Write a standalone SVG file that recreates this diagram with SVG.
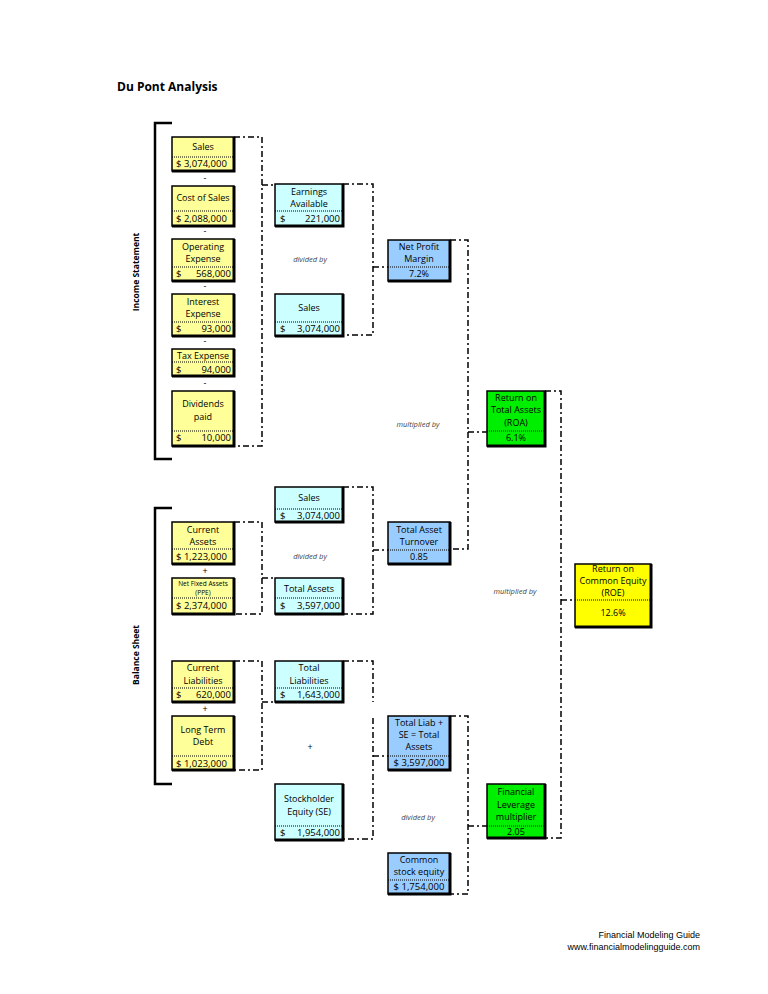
<svg xmlns="http://www.w3.org/2000/svg" width="768" height="994" viewBox="0 0 768 994">
<style>
text{font-family:"Open Sans","DejaVu Sans",sans-serif;font-size:9px;fill:#000}
.v{font-size:9.5px}
.b{stroke:#000;stroke-width:1.5}
.sh{stroke:#000;stroke-width:3;fill:none}
.d{stroke:#000;stroke-width:1;stroke-dasharray:1,1}
.y{fill:#FFFF99}.c{fill:#CCFFFF}.bl{fill:#99CCFF}.g{fill:#00EE00}.r{fill:#FFFF00}
.m{text-anchor:middle}
.it{font-style:italic;font-size:7.5px;fill:#444;text-anchor:middle}
.cn{fill:none;stroke:#000;stroke-width:1.5;stroke-dasharray:6,3,2,3}
.br{fill:none;stroke:#000;stroke-width:2.5}
.lb{font-weight:bold;font-size:8.5px;text-anchor:middle}
</style>
<rect width="768" height="994" fill="#fff"/>
<text x="117" y="91" style="font-size:12px;font-weight:bold">Du Pont Analysis</text>
<g id="brackets">
<path class="br" d="M172,123 H155 V459 H172"/>
<path class="br" d="M172,508 H155 V784 H172"/>
<text class="lb" transform="translate(139,272) rotate(-90)">Income Statement</text>
<text class="lb" transform="translate(139,655) rotate(-90)">Balance Sheet</text>
</g>
<g id="connectors">
<path class="cn" d="M234,137 H262 V446 H234 M262,185 H275"/>
<path class="cn" d="M343,184 H373 V335 H343 M373,267 H388"/>
<path class="cn" d="M450,240 H468 V549 H450 M468,432 H487"/>
<path class="cn" d="M545,391 H561 V838 H545 M561,600 H575"/>
<path class="cn" d="M234,522 H262 V614 H234 M262,578 H275"/>
<path class="cn" d="M343,487 H373 V614 H343 M373,550 H388"/>
<path class="cn" d="M234,661 H262 V770 H234 M262,702 H275"/>
<path class="cn" d="M343,661 H373 V702 M373,718 V839 H343 M373,756 H388"/>
<path class="cn" d="M450,716 H468 V894 H450 M468,826 H487"/>
</g>
<g id="ops">
<text class="m" x="205" y="181">-</text><text class="m" x="205" y="234">-</text><text class="m" x="205" y="289">-</text><text class="m" x="205" y="344">-</text><text class="m" x="205" y="386">-</text>
<text class="m" x="205" y="574">+</text><text class="m" x="205" y="712">+</text><text class="m" x="310" y="750">+</text>
<text class="it" x="310" y="262">divided by</text>
<text class="it" x="418" y="427">multiplied by</text>
<text class="it" x="310" y="559">divided by</text>
<text class="it" x="515" y="594">multiplied by</text>
<text class="it" x="418" y="820">divided by</text>
</g>
<g id="sales1"><rect class="b y" x="172" y="137" width="62" height="34"/><path class="sh" d="M234,137 V171 H172"/><line class="d" x1="172" y1="157" x2="234" y2="157"/><text class="m" x="203" y="150">Sales</text><text class="v" x="176" y="167">$ 3,074,000</text></g>
<g id="cos"><rect class="b y" x="172" y="186" width="62" height="40"/><path class="sh" d="M234,186 V226 H172"/><line class="d" x1="172" y1="211" x2="234" y2="211"/><text class="m" x="203" y="201">Cost of Sales</text><text class="v" x="176" y="222">$ 2,088,000</text></g>
<g id="opex"><rect class="b y" x="172" y="239" width="62" height="42"/><path class="sh" d="M234,239 V281 H172"/><line class="d" x1="172" y1="267" x2="234" y2="267"/><text class="m" x="203" y="250">Operating</text><text class="m" x="203" y="262">Expense</text><text class="v" x="176" y="277">$</text><text class="v" x="231" y="277" text-anchor="end">568,000</text></g>
<g id="intex"><rect class="b y" x="172" y="294" width="62" height="42"/><path class="sh" d="M234,294 V336 H172"/><line class="d" x1="172" y1="322" x2="234" y2="322"/><text class="m" x="203" y="305">Interest</text><text class="m" x="203" y="317">Expense</text><text class="v" x="176" y="332">$</text><text class="v" x="231" y="332" text-anchor="end">93,000</text></g>
<g id="tax"><rect class="b y" x="172" y="349" width="62" height="27"/><path class="sh" d="M234,349 V376 H172"/><line class="d" x1="172" y1="362" x2="234" y2="362"/><text class="m" x="203" y="359">Tax Expense</text><text class="v" x="176" y="373">$</text><text class="v" x="231" y="373" text-anchor="end">94,000</text></g>
<g id="div"><rect class="b y" x="172" y="391" width="62" height="55"/><path class="sh" d="M234,391 V446 H172"/><line class="d" x1="172" y1="431" x2="234" y2="431"/><text class="m" x="203" y="407">Dividends</text><text class="m" x="203" y="420">paid</text><text class="v" x="176" y="441">$</text><text class="v" x="231" y="441" text-anchor="end">10,000</text></g>
<g id="earn"><rect class="b c" x="275" y="184" width="68" height="42"/><path class="sh" d="M343,184 V226 H275"/><line class="d" x1="275" y1="211" x2="343" y2="211"/><text class="m" x="309" y="195">Earnings</text><text class="m" x="309" y="207">Available</text><text class="v" x="280" y="222">$</text><text class="v" x="340" y="222" text-anchor="end">221,000</text></g>
<g id="sales2"><rect class="b c" x="275" y="294" width="68" height="42"/><path class="sh" d="M343,294 V336 H275"/><line class="d" x1="275" y1="322" x2="343" y2="322"/><text class="m" x="309" y="311">Sales</text><text class="v" x="280" y="332">$</text><text class="v" x="340" y="332" text-anchor="end">3,074,000</text></g>
<g id="npm"><rect class="b bl" x="388" y="240" width="62" height="41"/><path class="sh" d="M450,240 V281 H388"/><line class="d" x1="388" y1="267" x2="450" y2="267"/><text class="m" x="419" y="250">Net Profit</text><text class="m" x="419" y="262">Margin</text><text class="m" x="419" y="277">7.2%</text></g>
<g id="roa"><rect class="b g" x="487" y="391" width="58" height="55"/><path class="sh" d="M545,391 V446 H487"/><line class="d" x1="487" y1="431" x2="545" y2="431"/><text class="m" x="516" y="401">Return on</text><text class="m" x="516" y="413">Total Assets</text><text class="m" x="516" y="426">(ROA)</text><text class="m" x="516" y="441">6.1%</text></g>
<g id="roe"><rect class="b r" x="575" y="564" width="76" height="63"/><path class="sh" d="M651,564 V627 H575"/><line class="d" x1="575" y1="600" x2="651" y2="600"/><text class="m" x="613" y="572">Return on</text><text class="m" x="613" y="584">Common Equity</text><text class="m" x="613" y="596">(ROE)</text><text class="m" x="613" y="616">12.6%</text></g>
<g id="sales3"><rect class="b c" x="275" y="487" width="68" height="35"/><path class="sh" d="M343,487 V522 H275"/><line class="d" x1="275" y1="509" x2="343" y2="509"/><text class="m" x="309" y="501">Sales</text><text class="v" x="280" y="519">$</text><text class="v" x="340" y="519" text-anchor="end">3,074,000</text></g>
<g id="ca"><rect class="b y" x="172" y="522" width="62" height="42"/><path class="sh" d="M234,522 V564 H172"/><line class="d" x1="172" y1="549" x2="234" y2="549"/><text class="m" x="203" y="533">Current</text><text class="m" x="203" y="545">Assets</text><text class="v" x="176" y="560">$ 1,223,000</text></g>
<g id="nfa"><rect class="b y" x="172" y="578" width="62" height="36"/><path class="sh" d="M234,578 V614 H172"/><line class="d" x1="172" y1="598" x2="234" y2="598"/><text class="m" x="203" y="586" style="font-size:6.5px">Net Fixed Assets</text><text class="m" x="203" y="595" style="font-size:6.5px">(PPE)</text><text class="v" x="176" y="609">$ 2,374,000</text></g>
<g id="ta"><rect class="b c" x="275" y="578" width="68" height="36"/><path class="sh" d="M343,578 V614 H275"/><line class="d" x1="275" y1="598" x2="343" y2="598"/><text class="m" x="309" y="592">Total   Assets</text><text class="v" x="280" y="609">$</text><text class="v" x="340" y="609" text-anchor="end">3,597,000</text></g>
<g id="tat"><rect class="b bl" x="388" y="522" width="62" height="42"/><path class="sh" d="M450,522 V564 H388"/><line class="d" x1="388" y1="550" x2="450" y2="550"/><text class="m" x="419" y="533">Total Asset</text><text class="m" x="419" y="545">Turnover</text><text class="m" x="419" y="560">0.85</text></g>
<g id="cl"><rect class="b y" x="172" y="661" width="62" height="41"/><path class="sh" d="M234,661 V702 H172"/><line class="d" x1="172" y1="688" x2="234" y2="688"/><text class="m" x="203" y="671">Current</text><text class="m" x="203" y="684">Liabilities</text><text class="v" x="176" y="698">$</text><text class="v" x="231" y="698" text-anchor="end">620,000</text></g>
<g id="ltd"><rect class="b y" x="172" y="716" width="62" height="54"/><path class="sh" d="M234,716 V770 H172"/><line class="d" x1="172" y1="756" x2="234" y2="756"/><text class="m" x="203" y="733">Long Term</text><text class="m" x="203" y="745">Debt</text><text class="v" x="176" y="767">$ 1,023,000</text></g>
<g id="tl"><rect class="b c" x="275" y="661" width="68" height="41"/><path class="sh" d="M343,661 V702 H275"/><line class="d" x1="275" y1="688" x2="343" y2="688"/><text class="m" x="309" y="671">Total</text><text class="m" x="309" y="684">Liabilities</text><text class="v" x="280" y="698">$</text><text class="v" x="340" y="698" text-anchor="end">1,643,000</text></g>
<g id="se"><rect class="b c" x="275" y="784" width="68" height="56"/><path class="sh" d="M343,784 V840 H275"/><line class="d" x1="275" y1="826" x2="343" y2="826"/><text class="m" x="309" y="802">Stockholder</text><text class="m" x="309" y="815">Equity (SE)</text><text class="v" x="280" y="836">$</text><text class="v" x="340" y="836" text-anchor="end">1,954,000</text></g>
<g id="tlse"><rect class="b bl" x="388" y="716" width="62" height="54"/><path class="sh" d="M450,716 V770 H388"/><line class="d" x1="388" y1="756" x2="450" y2="756"/><text class="m" x="419" y="726">Total Liab +</text><text class="m" x="419" y="738">SE = Total</text><text class="m" x="419" y="750">Assets</text><text class="v m" x="419" y="766">$ 3,597,000</text></g>
<g id="flm"><rect class="b g" x="487" y="784" width="58" height="54"/><path class="sh" d="M545,784 V838 H487"/><line class="d" x1="487" y1="826" x2="545" y2="826"/><text class="m" x="516" y="795">Financial</text><text class="m" x="516" y="808">Leverage</text><text class="m" x="516" y="820">multiplier</text><text class="m" x="516" y="835">2.05</text></g>
<g id="cse"><rect class="b bl" x="388" y="853" width="62" height="41"/><path class="sh" d="M450,853 V894 H388"/><line class="d" x1="388" y1="880" x2="450" y2="880"/><text class="m" x="419" y="863">Common</text><text class="m" x="419" y="875">stock equity</text><text class="v m" x="419" y="890">$ 1,754,000</text></g>
<text x="700" y="938" text-anchor="end" style="font-family:'Liberation Sans',sans-serif;font-size:9px">Financial Modeling Guide</text>
<text x="700" y="950" text-anchor="end" style="font-family:'Liberation Sans',sans-serif;font-size:9px">www.financialmodelingguide.com</text>
</svg>
